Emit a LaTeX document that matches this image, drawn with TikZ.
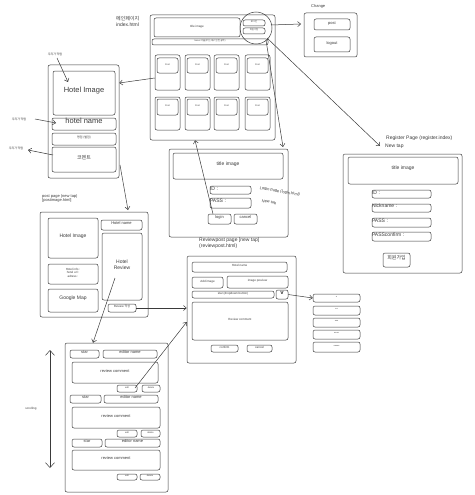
\documentclass[tikz,border=0pt]{standalone}
\usepackage{fontspec}
\setmainfont{Liberation Sans}
\newfontfamily\kr{Noto Sans CJK KR}
\usetikzlibrary{fit,arrows.meta}
\definecolor{ink}{HTML}{3A3A3A}
\newcommand{\wbox}[5][]{\node[box,fit={(#3) (#4)},#1] (#2) {#5};}
\begin{document}
\begin{tikzpicture}[x=1pt,y=-1pt,
  box/.style={draw=ink, rounded corners=2pt, line width=0.5pt, inner sep=0pt, align=center, text=ink},
  ar/.style={draw=ink, line width=0.5pt, -{Straight Barb[length=3pt,width=5pt]}},
  lbl/.style={text=ink, inner sep=0pt, align=left},
  f2/.style={font=\fontsize{2.3}{2.8}\selectfont},
  f3/.style={font=\fontsize{3}{3.6}\selectfont},
  f4/.style={font=\fontsize{4}{4.8}\selectfont},
  f5/.style={font=\fontsize{5}{6}\selectfont},
  f6/.style={font=\fontsize{6}{7.2}\selectfont},
  f8/.style={font=\fontsize{7.5}{9}\selectfont}]
\useasboundingbox (0,0) rectangle (474,495);

% ---------- main page ----------
\node[lbl,f5,anchor=north west] (mplbl) at (116,16) {{\kr 메인페이지}\\index.html};
\wbox{mp}{150,15}{275,140}{}
\wbox[f3]{mptitle}{154,18}{240,37}{title image}
\wbox[f2]{btnlog}{243,20}{265,26}{\kr 로그인}
\wbox[f2]{btnreg}{243,28}{265,34}{\kr 회원가입}
\node[draw=ink, line width=0.5pt, circle, minimum size=32pt, inner sep=0pt] (circ) at (256,28) {};
\wbox[f2]{search}{152,39}{268,45}{Seoul {\kr 서울(부산,대구,인천,광주)}}
\foreach \x/\i in {155/1,185/2,214/3,245/4}{
  \node[box,fit={(\x,55) (\x+25,90)}] (pa\i) {};
  \node[box,fit={(\x+2,58) (\x+23,73)},f2] (pai\i) {Post};
  \node[box,fit={(\x,97) (\x+25,130)}] (pb\i) {};
  \node[box,fit={(\x+2,99) (\x+23,115)},f2] (pbi\i) {Post};
}

% ---------- change ----------
\node[lbl,f4,anchor=west] (chlbl) at (311,6) {Change};
\wbox{ch}{304,13}{357,57}{}
\wbox[f4]{chpost}{314,19}{350,30}{post}
\wbox[f4]{chlogout}{314,37}{350,52}{logout}
\coordinate (cs) at (271,25);
\coordinate (ce) at (301,24);
\draw[ar] (cs) -- (ce);

% ---------- hotel card ----------
\wbox{hc}{48,65}{119,178}{}
\wbox[f8]{hcimg}{53,71}{115,115}{Hotel Image}
\wbox[f8]{hcname}{52,118}{116,130}{hotel name}
\wbox[f3]{hcrate}{52,133}{116,145}{\kr 평점 (별점)}
\wbox[f5]{hccom}{52,147}{116,172}{\kr 코멘트}
\node[lbl,f3] (w1) at (55,54) {\kr 우리가 작업};
\node[lbl,f3] (w2) at (19,119) {\kr 우리가 작업};
\node[lbl,f3] (w3) at (16,148) {\kr 우리가 작업};
\coordinate (w1s) at (57,58); \coordinate (w1e) at (68,82);
\coordinate (w2s) at (35,119); \coordinate (w2e) at (56,123);
\coordinate (w3s) at (53,155); \coordinate (w3e) at (28,150);
\draw[ar] (w1s) -- (w1e);
\draw[ar] (w2s) -- (w2e);
\draw[ar] (w3s) -- (w3e);

% ---------- post page ----------
\node[lbl,f4,anchor=north west] (pplbl) at (42,194) {post page (new tap)\\{[}postimage.html{]}};
\wbox{pp}{40,212}{148,317}{}
\wbox[f5]{ppimg}{48,218}{98,258}{Hotel Image}
\wbox[f3]{ppinfo}{48,264}{98,284}{Hotel info :\\hotel url :\\adress :}
\wbox[f5]{ppmap}{48,289}{98,312}{Google Map}
\wbox[f4]{ppname}{101,220}{142,230}{Hotel name}
\wbox[f5]{pprev}{102,233}{142,300}{Hotel\\Review}
\wbox[f3]{pprbtn}{108,304}{136,312}{Review {\kr 작성}}

% ---------- login ----------
\wbox{lg}{169,149}{288,237}{}
\wbox[f5]{lgtitle}{173,153}{283,179}{title image}
\wbox[f5,text width=41pt,align=left]{lgid}{209,186}{252,194}{ID :}
\wbox[f5,text width=41pt,align=left]{lgpass}{209,198}{252,208}{PASS :}
\wbox[f4]{lgbtn}{208,214}{231,224}{login}
\wbox[f4]{lgcancel}{234,214}{257,224}{cancel}
\node[lbl,f4,anchor=north west,rotate=-10] (lglbl) at (260,186) {Login page (login.html)};
\node[lbl,f4,anchor=north west,rotate=-10] (lglbl2) at (262,199) {New tab};

% ---------- register ----------
\node[lbl,f5,anchor=west] (rglbl) at (386,138) {Register Page (register.index)};
\node[lbl,f5,anchor=west] (rglbl2) at (385,146) {New tap};
\wbox{rg}{343,154}{462,273}{}
\wbox[f5]{rgtitle}{348,157}{458,184}{title image}
\wbox[f5,text width=59pt,align=left]{rgid}{371,190}{432,198}{ID :}
\wbox[f5,text width=59pt,align=left]{rgnick}{371,204}{432,212}{Nickname :}
\wbox[f5,text width=59pt,align=left]{rgpass}{371,218}{432,227}{PASS :}
\wbox[f5,text width=59pt,align=left]{rgconf}{371,232}{432,241}{PASSconfirm :}
\wbox[f5]{rgbtn}{383,253}{410,267}{\kr 회원가입}

% ---------- review post ----------
\node[lbl,f5,anchor=north west] (rplbl) at (199,238) {Reviewpost page [new tap]\\(reviewpost.html)};
\wbox{rp}{187,256}{296,363}{}
\wbox[f3]{rpname}{192,262}{287,272}{Hotel name}
\wbox[f3]{rpadd}{192,277}{223,288}{Add image}
\wbox[f3]{rpprev}{227,276}{288,288}{image preview}
\wbox[f3]{rpstar}{192,291}{274,298}{star (dropdown button)}
\wbox[font=\fontsize{6}{6}\selectfont\bfseries]{rpdd}{276,290}{288,299}{v}
\wbox[f3]{rpcom}{192,302}{288,340}{Review comment}
\wbox[f3]{rpconf}{211,345}{238,352}{confirm}
\wbox[f3]{rpcancel}{247,345}{272,352}{cancel}

% ---------- dropdown list ----------
\wbox[f3]{dd1}{313,294}{360,302}{*}
\wbox[f3]{dd2}{313,306}{360,315}{**}
\wbox[f3]{dd3}{313,318}{360,327}{***}
\wbox[f3]{dd4}{313,330}{360,339}{****}
\wbox[f3]{dd5}{313,342}{360,352}{*****}

% ---------- review list ----------
\wbox{rl}{65,343}{168,492}{}
\wbox[f4]{s1}{70,350}{99,358}{star}
\wbox[f4]{e1}{103,350}{157,358}{editor name}
\wbox[f4]{c1}{72,362}{158,383}{review comment}
\wbox[f2]{ed1}{117,385}{137,392}{edit}
\wbox[f2]{dl1}{142,385}{160,392}{delete}
\wbox[f4]{s2}{70,395}{101,403}{star}
\wbox[f4]{e2}{104,395}{158,403}{editor name}
\wbox[f4]{c2}{72,407}{160,428}{review comment}
\wbox[f2]{ed2}{117,430}{137,437}{edit}
\wbox[f2]{dl2}{141,430}{160,437}{delete}
\wbox[f4]{s3}{72,439}{102,447}{star}
\wbox[f4]{e3}{105,439}{160,447}{editor name}
\wbox[f4]{c3}{72,450}{160,470}{review comment}
\wbox[f2]{ed3}{117,474}{137,480}{edit}
\wbox[f2]{dl3}{140,474}{160,480}{delete}

% scrolling
\coordinate (sct) at (50,350);
\coordinate (scb) at (50,468);
\draw[draw=ink, line width=0.5pt, {Straight Barb[length=5pt,width=9pt]}-{Straight Barb[length=5pt,width=9pt]}] (sct) -- (scb);
\node[lbl,f3] (sclbl) at (31,409) {scrolling};

% ---------- connectors ----------
\draw[ar] (pa1.west |- 0,78) -- (hc.east |- 0,83);
\coordinate (a2s) at (120,165);
\coordinate (a2e) at (128,210);
\draw[ar] (a2s) -- (a2e);
\coordinate (a3s) at (266,40);
\coordinate (a3e) at (283,147);
\draw[ar] (a3s) -- (a3e);
\coordinate (a4s) at (267,38);
\coordinate (a4e) at (380,146);
\draw[ar] (a4s) -- (a4e);
\coordinate (a5s) at (213,214);
\draw[ar] (a5s) -- (mp.south -| 195,0);
\draw[ar] (pprbtn.east) -- (rp.west |- 0,308);
\coordinate (a7s) at (115,278);
\draw[ar] (a7s) -- (rl.north -| 93,0);
\coordinate (a8s) at (135,388);
\draw[ar] (a8s) -- (rp.west |- 0,322);
\draw[ar] (rpdd.east) -- (dd1.west);
\end{tikzpicture}
\end{document}
